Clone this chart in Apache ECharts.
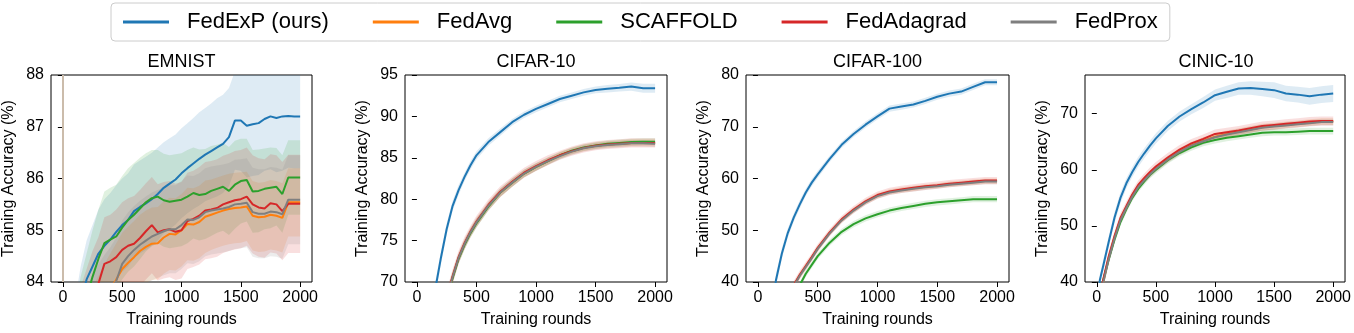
<!DOCTYPE html>
<html>
<head>
<meta charset="utf-8">
<script src="https://cdn.jsdelivr.net/npm/echarts@6/dist/echarts.min.js"></script>
<style>
  html, body { margin: 0; padding: 0; background: #fff; }
  #chart { width: 1354px; height: 333px; }
</style>
</head>
<body>
<div id="chart"></div>
<script>
// legend / methods
var methods = ['FedExP (ours)', 'FedAvg', 'SCAFFOLD', 'FedAdagrad', 'FedProx'];
var xTicks = [0, 500, 1000, 1500, 2000];

// ---- EMNIST ----
var emnistRounds = [0, 100, 150, 200, 250, 300, 350, 400, 450, 500,
  550, 600, 650, 700, 750, 800, 850, 900, 950, 1000,
  1050, 1100, 1150, 1200, 1250, 1300, 1350, 1400, 1450, 1500,
  1550, 1600, 1650, 1700, 1750, 1800, 1850, 1900, 1950, 2000];
var emnistFedExP = [5, 83.0, 83.6, 84.05, 84.3, 84.55, 84.7, 84.82, 84.97, 85.1,
  85.2, 85.37, 85.45, 85.52, 85.6, 85.7, 85.82, 85.9, 85.98, 86.1,
  86.2, 86.29, 86.38, 86.46, 86.53, 86.6, 86.67, 86.8, 87.12, 87.12,
  87.02, 87.05, 87.07, 87.15, 87.2, 87.17, 87.2, 87.21, 87.2, 87.2];
var emnistFedAvg = [5, 82.2, 82.7, 83.0, 83.25, 83.45, 83.65, 83.85, 84.05, 84.25,
  84.37, 84.48, 84.6, 84.68, 84.74, 84.75, 84.86, 84.93, 84.92, 85.0,
  85.12, 85.11, 85.16, 85.26, 85.3, 85.34, 85.38, 85.41, 85.43, 85.44,
  85.46, 85.28, 85.25, 85.26, 85.3, 85.28, 85.24, 85.54, 85.54, 85.54];
var emnistScaffold = [5, 82.8, 83.3, 83.7, 84.1, 84.45, 84.75, 84.82, 84.88, 85.05,
  85.2, 85.3, 85.42, 85.54, 85.62, 85.65, 85.58, 85.55, 85.57, 85.59,
  85.65, 85.72, 85.68, 85.7, 85.76, 85.8, 85.84, 85.76, 85.88, 85.95,
  85.97, 85.75, 85.76, 85.8, 85.82, 85.84, 85.7, 86.02, 86.02, 86.02];
var emnistFedAdagrad = [5, 82.6, 83.1, 83.4, 83.7, 83.97, 84.35, 84.4, 84.48, 84.62,
  84.7, 84.74, 84.85, 84.98, 85.1, 84.96, 85.0, 85.02, 84.97, 85.0,
  85.18, 85.22, 85.28, 85.38, 85.4, 85.43, 85.5, 85.54, 85.58, 85.6,
  85.65, 85.5, 85.44, 85.42, 85.52, 85.5, 85.37, 85.51, 85.51, 85.51];
var emnistFedProx = [5, 82.3, 82.8, 83.1, 83.35, 83.55, 83.7, 83.85, 84.02, 84.35,
  84.5, 84.62, 84.72, 84.8, 84.88, 84.93, 84.98, 85.02, 85.02, 85.1,
  85.21, 85.2, 85.25, 85.35, 85.38, 85.4, 85.42, 85.45, 85.5, 85.51,
  85.53, 85.35, 85.32, 85.32, 85.36, 85.35, 85.31, 85.59, 85.59, 85.59];
// std (half band width)
var emnistStdFedExP = [0.5, 0.6, 0.7, 0.75, 0.8, 0.85, 0.9, 0.9, 0.9, 0.9,
  0.9, 0.9, 0.9, 0.9, 0.9, 0.9, 0.88, 0.88, 0.87, 0.87,
  0.87, 0.88, 0.9, 0.9, 0.92, 0.95, 0.95, 0.95, 0.95, 0.97,
  1.0, 1.0, 1.0, 1.0, 1.02, 1.05, 1.05, 1.0, 1.0, 1.0];
var emnistStdFedAvg = [0.5, 0.55, 0.6, 0.62, 0.65, 0.67, 0.7, 0.7, 0.7, 0.7,
  0.7, 0.7, 0.7, 0.7, 0.7, 0.7, 0.7, 0.7, 0.7, 0.7,
  0.7, 0.7, 0.7, 0.7, 0.68, 0.68, 0.68, 0.68, 0.68, 0.68,
  0.67, 0.67, 0.67, 0.67, 0.67, 0.67, 0.67, 0.66, 0.66, 0.66];
var emnistStdScaffold = [0.6, 0.7, 0.8, 0.85, 0.9, 0.95, 1.0, 1.0, 1.0, 1.0,
  1.0, 1.0, 0.98, 0.95, 0.93, 0.9, 0.9, 0.9, 0.9, 0.9,
  0.9, 0.88, 0.88, 0.87, 0.87, 0.85, 0.85, 0.85, 0.85, 0.82,
  0.8, 0.8, 0.8, 0.78, 0.78, 0.75, 0.75, 0.72, 0.72, 0.72];
var emnistStdFedAdagrad = [0.6, 0.7, 0.8, 0.85, 0.9, 0.9, 0.9, 0.9, 0.92, 0.92,
  0.92, 0.92, 0.93, 0.93, 0.93, 0.93, 0.93, 0.93, 0.93, 0.93,
  0.93, 0.93, 0.94, 0.94, 0.94, 0.94, 0.94, 0.94, 0.95, 0.95,
  0.95, 0.95, 0.95, 0.95, 0.95, 0.95, 0.95, 0.95, 0.95, 0.95];
var emnistStdFedProx = [0.6, 0.65, 0.7, 0.75, 0.8, 0.8, 0.82, 0.82, 0.84, 0.84,
  0.85, 0.85, 0.85, 0.85, 0.85, 0.85, 0.85, 0.85, 0.85, 0.85,
  0.85, 0.85, 0.85, 0.85, 0.85, 0.85, 0.85, 0.85, 0.86, 0.86,
  0.86, 0.86, 0.86, 0.86, 0.86, 0.86, 0.86, 0.86, 0.86, 0.86];
var emnistSpikeRound = 0;
var emnistYTicks = [84, 85, 86, 87, 88];

// ---- CIFAR-10 / CIFAR-100 share rounds ----
var cifarRounds = [0, 50, 100, 150, 200, 250, 300, 350, 400, 450, 500,
  600, 700, 800, 900, 1000, 1100, 1200, 1300, 1400, 1500, 1600, 1700, 1800, 1900, 2000];

var cifar10FedExP = [10, 40, 58, 68.8, 72.8, 76.4, 79.2, 81.1, 82.7, 84.1, 85.3,
  86.9, 88.1, 89.3, 90.2, 90.9, 91.5, 92.1, 92.5, 92.9, 93.2, 93.35, 93.45, 93.6, 93.4, 93.4];
var cifar10FedAvg = [10, 25, 40, 52, 61, 68.0, 70.6, 72.9, 74.6, 76.0, 77.2,
  79.2, 80.8, 82.0, 83.1, 83.9, 84.6, 85.3, 85.8, 86.2, 86.45, 86.6, 86.7, 86.8, 86.8, 86.8];
var cifar10Scaffold = [10, 25, 40, 52, 61, 67.9, 70.5, 72.8, 74.5, 75.9, 77.1,
  79.1, 80.8, 82.0, 83.1, 83.9, 84.6, 85.3, 85.85, 86.25, 86.5, 86.7, 86.8, 86.9, 86.95, 86.95];
var cifar10FedAdagrad = [10, 25, 40, 52, 61, 68.1, 70.7, 73.0, 74.7, 76.1, 77.3,
  79.3, 80.9, 82.1, 83.2, 84.0, 84.7, 85.3, 85.8, 86.2, 86.45, 86.6, 86.7, 86.8, 86.8, 86.8];
var cifar10FedProx = [10, 25, 40, 52, 61, 68.0, 70.6, 72.9, 74.6, 76.0, 77.2,
  79.2, 80.8, 82.0, 83.1, 83.9, 84.6, 85.2, 85.75, 86.15, 86.4, 86.55, 86.65, 86.75, 86.75, 86.7];
var cifar10StdFedExP = [1, 1, 1, 0.9, 0.8, 0.7, 0.6, 0.6, 0.5, 0.5, 0.5,
  0.45, 0.45, 0.4, 0.4, 0.4, 0.4, 0.4, 0.4, 0.4, 0.4, 0.45, 0.45, 0.5, 0.55, 0.55];
var cifar10StdOthers = [1, 1, 1, 1, 0.9, 0.8, 0.7, 0.6, 0.6, 0.55, 0.55,
  0.5, 0.5, 0.5, 0.45, 0.45, 0.45, 0.4, 0.4, 0.4, 0.4, 0.4, 0.4, 0.4, 0.4, 0.4];
var cifar10StdFedAdagrad = [1, 1, 1, 1, 1, 0.9, 0.85, 0.8, 0.75, 0.7, 0.7,
  0.65, 0.65, 0.6, 0.6, 0.6, 0.6, 0.55, 0.55, 0.55, 0.55, 0.55, 0.55, 0.55, 0.55, 0.55];
var cifar10YTicks = [70, 75, 80, 85, 90, 95];

var cifar100FedExP = [1, 15, 30, 40.3, 45.5, 49.5, 52.5, 55.0, 57.3, 59.2, 60.8,
  63.8, 66.5, 68.6, 70.4, 72.0, 73.5, 73.9, 74.3, 75.0, 75.8, 76.4, 76.8, 77.7, 78.6, 78.6];
var cifar100FedAvg = [1, 8, 15, 22, 29, 34.5, 39.3, 41.3, 43.0, 44.7, 46.5,
  49.5, 52.0, 53.9, 55.5, 56.7, 57.4, 57.8, 58.1, 58.4, 58.6, 58.9, 59.1, 59.3, 59.5, 59.5];
var cifar100Scaffold = [1, 6, 12, 18, 24, 29, 34, 39.4, 41.6, 43.3, 45.0,
  47.6, 49.7, 51.2, 52.3, 53.1, 53.8, 54.3, 54.7, 55.1, 55.4, 55.6, 55.8, 56.0, 56.0, 56.0];
var cifar100FedAdagrad = [1, 8, 15, 22, 29, 34.6, 39.4, 41.4, 43.1, 44.8, 46.6,
  49.6, 52.1, 54.0, 55.6, 56.8, 57.5, 57.9, 58.2, 58.5, 58.7, 59.0, 59.2, 59.4, 59.6, 59.6];
var cifar100FedProx = [1, 8, 15, 22, 29, 34.4, 39.2, 41.2, 42.9, 44.6, 46.4,
  49.4, 51.9, 53.8, 55.4, 56.6, 57.3, 57.7, 58.0, 58.3, 58.5, 58.8, 59.0, 59.2, 59.4, 59.4];
var cifar100StdFedExP = [2, 2, 1.5, 1.2, 1, 0.9, 0.8, 0.8, 0.7, 0.7, 0.7,
  0.6, 0.6, 0.6, 0.6, 0.6, 0.6, 0.6, 0.6, 0.6, 0.6, 0.6, 0.6, 0.6, 0.6, 0.6];
var cifar100StdOthers = [1, 1, 1, 1, 0.9, 0.8, 0.7, 0.6, 0.6, 0.55, 0.55,
  0.5, 0.5, 0.5, 0.5, 0.5, 0.5, 0.5, 0.5, 0.5, 0.5, 0.5, 0.5, 0.5, 0.5, 0.5];
var cifar100StdScaffold = [1, 1, 1, 1, 0.9, 0.8, 0.7, 0.65, 0.65, 0.6, 0.6,
  0.6, 0.6, 0.6, 0.6, 0.6, 0.6, 0.6, 0.6, 0.6, 0.6, 0.6, 0.6, 0.6, 0.6, 0.6];
var cifar100StdFedAdagrad = [1, 1, 1, 1, 1, 0.9, 0.85, 0.8, 0.75, 0.75, 0.75,
  0.7, 0.7, 0.7, 0.7, 0.7, 0.7, 0.7, 0.7, 0.7, 0.7, 0.7, 0.7, 0.7, 0.7, 0.7];
var cifar100YTicks = [40, 50, 60, 70, 80];

// ---- CINIC-10 ----
var cinicRounds = [0, 25, 50, 100, 150, 200, 250, 300, 350, 400, 450, 500,
  600, 700, 800, 900, 1000, 1100, 1200, 1300, 1400, 1500, 1600, 1700, 1800, 1900, 2000];
var cinicFedExP = [10, 40.3, 42.5, 47.1, 51.5, 55.0, 57.6, 59.6, 61.4, 62.9, 64.3, 65.6,
  67.8, 69.5, 70.8, 72.0, 73.3, 73.9, 74.5, 74.6, 74.4, 74.2, 73.6, 73.4, 73.1, 73.4, 73.6];
var cinicFedAvg = [10, 30, 39.6, 44.2, 48.0, 51.1, 53.3, 55.3, 57.0, 58.2, 59.3, 60.3,
  61.9, 63.3, 64.4, 65.2, 65.9, 66.4, 66.8, 67.2, 67.6, 67.8, 68.0, 68.2, 68.4, 68.6, 68.6];
var cinicScaffold = [10, 30, 40, 44.0, 47.6, 50.7, 53.0, 55.0, 56.6, 57.9, 59.1, 60.0,
  61.7, 63.0, 64.0, 64.8, 65.3, 65.7, 66.0, 66.3, 66.6, 66.7, 66.7, 66.8, 66.9, 66.9, 66.9];
var cinicFedAdagrad = [10, 30, 40, 44.5, 48.2, 51.4, 53.5, 55.6, 57.3, 58.5, 59.6, 60.6,
  62.2, 63.6, 64.7, 65.5, 66.4, 66.7, 67.0, 67.4, 67.8, 68.0, 68.2, 68.4, 68.6, 68.7, 68.7];
var cinicFedProx = [10, 30, 39.5, 44, 47.8, 51, 53.2, 55.2, 56.9, 58.1, 59.2, 60.2,
  61.8, 63.2, 64.3, 65.1, 65.8, 66.3, 66.7, 67.1, 67.5, 67.7, 67.9, 68.1, 68.3, 68.5, 68.5];
var cinicStdFedExP = [1, 1, 1, 1, 1, 1, 0.9, 0.9, 0.9, 0.9, 0.9, 0.9,
  0.9, 0.9, 0.9, 1.0, 1.0, 1.1, 1.1, 1.2, 1.3, 1.4, 1.4, 1.4, 1.5, 1.5, 1.5];
var cinicStdOthers = [1, 1, 1, 0.9, 0.8, 0.7, 0.7, 0.6, 0.6, 0.6, 0.6, 0.6,
  0.6, 0.6, 0.6, 0.6, 0.6, 0.6, 0.6, 0.6, 0.6, 0.6, 0.6, 0.6, 0.6, 0.6, 0.6];
var cinicStdFedAdagrad = [1, 1, 1, 1, 0.9, 0.9, 0.85, 0.8, 0.8, 0.8, 0.8, 0.8,
  0.8, 0.8, 0.8, 0.8, 0.8, 0.8, 0.8, 0.8, 0.8, 0.8, 0.8, 0.8, 0.8, 0.8, 0.8];
var cinicYTicks = [40, 50, 60, 70];

// ---- styles ----
var font = "'Liberation Sans', Arial, sans-serif";
var colors = ['#1f77b4', '#ff7f0e', '#2ca02c', '#d62728', '#7f7f7f'];
var bandColors = ['rgba(31,119,180,0.15)', 'rgba(255,127,14,0.15)', 'rgba(44,160,44,0.15)',
  'rgba(214,39,40,0.15)', 'rgba(127,127,127,0.15)'];

var panels = [
  { title: 'EMNIST', rounds: emnistRounds,
    means: [emnistFedExP, emnistFedAvg, emnistScaffold, emnistFedAdagrad, emnistFedProx],
    stds: [emnistStdFedExP, emnistStdFedAvg, emnistStdScaffold, emnistStdFedAdagrad, emnistStdFedProx],
    ymin: 84, ymax: 88, yTicks: emnistYTicks, left: 51, width: 261 },
  { title: 'CIFAR-10', rounds: cifarRounds,
    means: [cifar10FedExP, cifar10FedAvg, cifar10Scaffold, cifar10FedAdagrad, cifar10FedProx],
    stds: [cifar10StdFedExP, cifar10StdOthers, cifar10StdOthers, cifar10StdFedAdagrad, cifar10StdOthers],
    ymin: 70, ymax: 95, yTicks: cifar10YTicks, left: 405, width: 262 },
  { title: 'CIFAR-100', rounds: cifarRounds,
    means: [cifar100FedExP, cifar100FedAvg, cifar100Scaffold, cifar100FedAdagrad, cifar100FedProx],
    stds: [cifar100StdFedExP, cifar100StdOthers, cifar100StdScaffold, cifar100StdFedAdagrad, cifar100StdOthers],
    ymin: 40, ymax: 80, yTicks: cifar100YTicks, left: 746, width: 263 },
  { title: 'CINIC-10', rounds: cinicRounds,
    means: [cinicFedExP, cinicFedAvg, cinicScaffold, cinicFedAdagrad, cinicFedProx],
    stds: [cinicStdFedExP, cinicStdOthers, cinicStdOthers, cinicStdFedAdagrad, cinicStdOthers],
    ymin: 40, ymax: 76.9, yTicks: cinicYTicks, left: 1085, width: 262 }
];

// shaded mean +/- std band drawn as one polygon through the axes
function bandSeries(pi, rounds, m, s, fill) {
  var data = rounds.map(function (r, k) { return [r, m[k] - s[k], m[k] + s[k]]; });
  return {
    type: 'custom', xAxisIndex: pi, yAxisIndex: pi, silent: true, z: 1,
    data: data, encode: { x: 0, y: [1, 2] },
    renderItem: function (params, api) {
      if (params.dataIndex !== 0) return null;
      var upper = data.map(function (d) { return api.coord([d[0], d[2]]); });
      var lower = data.map(function (d) { return api.coord([d[0], d[1]]); }).reverse();
      var cs = params.coordSys;
      return {
        type: 'polygon',
        shape: { points: upper.concat(lower) },
        style: { fill: fill },
        clipPath: { type: 'rect', shape: { x: cs.x, y: cs.y, width: cs.width, height: cs.height } }
      };
    }
  };
}

var grids = [], xAxes = [], yAxes = [], titles = [], series = [];

panels.forEach(function (p, pi) {
  grids.push({ left: p.left, top: 75, width: p.width, height: 210,
    show: true, borderColor: '#000', borderWidth: 1, backgroundColor: 'transparent' });
  titles.push({ text: p.title, left: p.left + p.width / 2, top: 53, textAlign: 'center', padding: 0,
    textStyle: { fontSize: 18, fontWeight: 'normal', color: '#000', fontFamily: font } });
  xAxes.push({ type: 'value', gridIndex: pi, min: -100, max: 2100,
    name: 'Training rounds', nameLocation: 'middle', nameGap: 30,
    nameTextStyle: { fontSize: 16, color: '#000', fontFamily: font },
    axisLine: { show: false },
    axisTick: { show: true, length: 5, customValues: xTicks, lineStyle: { color: '#000' } },
    axisLabel: { customValues: xTicks, fontSize: 16, color: '#000', margin: 8, fontFamily: font,
      formatter: function (v) { return String(v); } },
    splitLine: { show: false } });
  yAxes.push({ type: 'value', gridIndex: pi, min: p.ymin, max: p.ymax,
    name: 'Training Accuracy (%)', nameLocation: 'middle', nameGap: 34,
    nameTextStyle: { fontSize: 16, color: '#000', fontFamily: font },
    axisLine: { show: false },
    axisTick: { show: true, length: 5, customValues: p.yTicks, lineStyle: { color: '#000' } },
    axisLabel: { customValues: p.yTicks, fontSize: 16, color: '#000', margin: 7, fontFamily: font,
      formatter: function (v) { return String(v); } },
    splitLine: { show: false } });

  p.means.forEach(function (m, mi) {
    series.push(bandSeries(pi, p.rounds, m, p.stds[mi], bandColors[mi]));
  });

  // mean curves
  p.means.forEach(function (m, mi) {
    var item = { name: methods[mi], type: 'line', xAxisIndex: pi, yAxisIndex: pi,
      symbol: 'none', color: colors[mi], lineStyle: { width: 2, color: colors[mi] }, z: 3,
      data: p.rounds.map(function (r, k) { return [r, m[k]]; }) };
    if (pi === 0 && mi === 0) {
      item.markLine = { silent: true, symbol: ['none', 'none'], label: { show: false },
        lineStyle: { color: '#cbbcab', width: 2, type: 'solid' },
        data: [{ xAxis: emnistSpikeRound }] };
    }
    series.push(item);
  });
});

var chart = echarts.init(document.getElementById('chart'));
chart.setOption({
  animation: false,
  backgroundColor: '#fff',
  textStyle: { fontFamily: font },
  title: titles,
  legend: {
    data: methods, left: 111, top: 3, padding: [8, 12],
    itemWidth: 46, itemHeight: 3, itemGap: 44, icon: 'rect',
    borderColor: '#cccccc', borderWidth: 1, borderRadius: 4,
    textStyle: { fontSize: 22, color: '#000', fontFamily: font, padding: [0, 0, 0, 13] }
  },
  grid: grids,
  xAxis: xAxes,
  yAxis: yAxes,
  series: series
});
</script>
</body>
</html>
